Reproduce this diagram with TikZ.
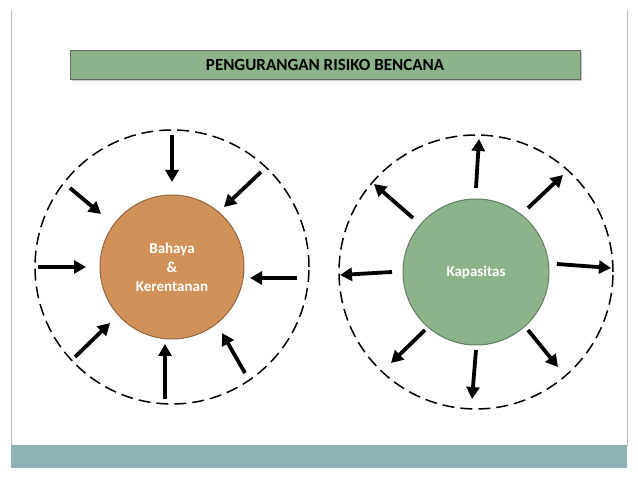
\documentclass[tikz,border=0pt]{standalone}
\usepackage{fontspec}
\setmainfont{Carlito}
\usetikzlibrary{arrows.meta,shadows}
\definecolor{ttl}{HTML}{8DB38B}
\definecolor{orng}{HTML}{D19259}
\definecolor{grn}{HTML}{8DB38B}
\definecolor{bar}{HTML}{8FB3B5}
\begin{document}
\begin{tikzpicture}[x=1pt,y=-1pt,
  arr/.style={-{Triangle[length=12pt,width=13pt]},line width=3.8pt},
  ring/.style={draw,dash pattern=on 12pt off 6pt,line width=1.5pt},
  ctext/.style={text=white,font=\bfseries\fontsize{15}{19}\selectfont,align=center}]
\useasboundingbox (0,0) rectangle (638,478);
\fill[white] (0,0) rectangle (638,478);
\draw[gray!50] (11,10) -- (11,445) -- (627,445) -- (627,10);
\fill[bar] (11,445) rectangle (627,468);
\node[draw=black!60,fill=ttl,line width=1pt,minimum width=510pt,minimum height=29pt,drop shadow={shadow xshift=2pt,shadow yshift=-2pt,opacity=0.4},font=\bfseries\fontsize{17}{20}\selectfont] (title) at (325,65) {PENGURANGAN RISIKO BENCANA};
\node[ring,circle,minimum size=274pt] (L) at (172,267) {};
\node[ring,circle,minimum size=274pt] (R) at (476,272) {};
\node[circle,fill=orng,draw=orng!70!black,line width=1pt,minimum size=144pt,ctext] (B) at (172,267) {Bahaya\\\&\\Kerentanan};
\node[circle,fill=grn,draw=grn!70!black,line width=1pt,minimum size=146pt,ctext] (K) at (476,272) {Kapasitas};
\foreach \a/\b/\c/\d in {172/135/172/182, 70/188/101/214, 261/172/224/207, 38/267/86/267, 297/278/250/278, 75/357/110/323, 165/399/165/344, 245/373/222/333}
  \draw[arr] (\a,\b) -- (\c,\d);
\foreach \a/\b/\c/\d in {413/218/374/184, 476/188/479/139, 528/208/563/175, 557/264/611/268, 392/272/340/275, 425/330/391/363, 476/350/472/399, 528/330/558/367}
  \draw[arr] (\a,\b) -- (\c,\d);
\end{tikzpicture}
\end{document}
